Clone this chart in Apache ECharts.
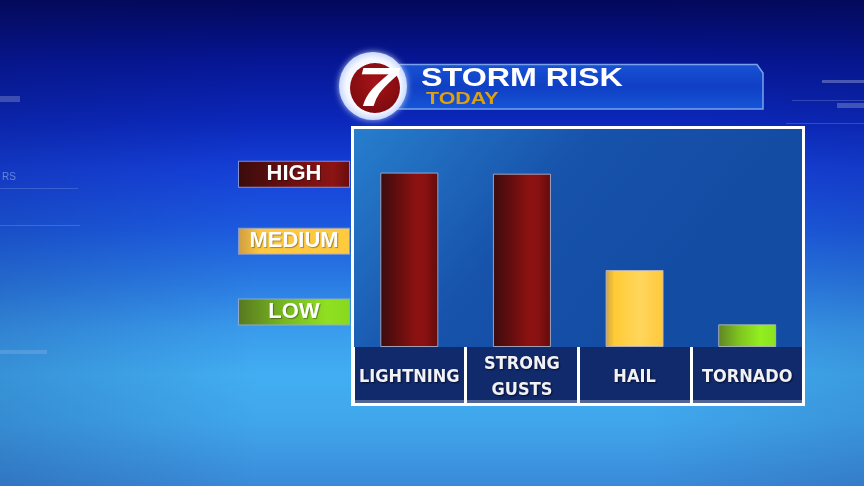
<!DOCTYPE html>
<html><head><meta charset="utf-8">
<script src="https://cdn.jsdelivr.net/npm/echarts@6/dist/echarts.min.js"></script>
<style>html,body{margin:0;padding:0;background:#1a50e0;overflow:hidden}#c{width:864px;height:486px}</style>
</head><body><div id="c"></div>
<script>
// ---- data ----
const categories = ['LIGHTNING', 'STRONG\nGUSTS', 'HAIL', 'TORNADO'];
const riskValues = [80, 79.5, 35.3, 10.4];
const riskLevels = ['HIGH', 'HIGH', 'MEDIUM', 'LOW'];
const levelNames = ['LOW', 'MEDIUM', 'HIGH'];
const levelValues = [16, 48.5, 79.3];
const titleText = 'STORM RISK';
const subtitleText = 'TODAY';
const logoText = '7';

// ---- styles ----
function hGrad(stops) {
  return new echarts.graphic.LinearGradient(0, 0, 1, 0, stops.map(s => ({offset: s[0], color: s[1]})));
}
const barStops = {
  HIGH: [[0, '#3a0c0e'], [0.35, '#6a0e0f'], [0.62, '#8c1211'], [0.78, '#891111'], [1, '#610c0c']],
  MEDIUM: [[0, '#c9a04a'], [0.15, '#ffcb35'], [0.6, '#ffd65c'], [1, '#ffc83a']],
  LOW: [[0, '#5e8424'], [0.35, '#7ec21f'], [0.72, '#93ee1f'], [1, '#8ae21f']]
};
const labelStops = {
  HIGH: [[0, '#3a0b0c'], [0.55, '#721010'], [0.85, '#8c1414'], [1, '#680c0c']],
  MEDIUM: [[0, '#cc9c42'], [0.2, '#ffc840'], [1, '#ffca3e']],
  LOW: [[0, '#587820'], [0.4, '#76b620'], [0.8, '#90e020'], [1, '#88d820']]
};
const FONT = '"DejaVu Sans Condensed","Liberation Sans",Arial,sans-serif';
const FONTW = '"Liberation Sans",Arial,sans-serif';

const rich = {};
levelNames.forEach(n => {
  rich[n.toLowerCase()] = {
    backgroundColor: hGrad(labelStops[n]),
    borderColor: 'rgba(180,180,200,0.7)', borderWidth: 1,
    width: 110, height: 25, lineHeight: 25, align: 'center',
    color: '#ffffff', fontSize: 22, fontWeight: 'bold', fontFamily: FONTW,
    textShadowColor: 'rgba(0,0,0,0.35)', textShadowBlur: 1, textShadowOffsetX: 1, textShadowOffsetY: 1,
    padding: [0, 0, 0, 0]
  };
});

const chart = echarts.init(document.getElementById('c'), null, {renderer: 'canvas'});
chart.setOption({
  animation: false,
  grid: {left: 353, right: 60.5, top: 129, bottom: 139, containLabel: false},
  xAxis: {
    type: 'category', data: categories,
    axisLine: {show: false},
    axisTick: {show: true, interval: 0, length: 56, lineStyle: {color: '#ffffff', width: 3}},
    axisLabel: {
      interval: 0, margin: 30, verticalAlign: 'middle', lineHeight: 26,
      fontSize: 18, fontWeight: 'bold', fontFamily: FONT, color: '#f2f2f4',
      textShadowColor: 'rgba(0,0,20,0.7)', textShadowBlur: 2, textShadowOffsetX: 1, textShadowOffsetY: 1
    },
    splitLine: {show: false}
  },
  yAxis: {
    type: 'value', min: 0, max: 100,
    axisLine: {show: false}, axisTick: {show: false}, splitLine: {show: false},
    axisLabel: {
      customValues: levelValues, margin: 4,
      formatter: v => { const i = levelValues.indexOf(v); const n = levelNames[i]; return n ? '{' + n.toLowerCase() + '|' + n + '}' : ''; },
      rich: rich
    }
  },
  series: [{
    type: 'bar', barWidth: 58, z: 5,
    data: riskValues.map((v, i) => ({
      value: v,
      itemStyle: {color: hGrad(barStops[riskLevels[i]]), borderColor: 'rgba(185,185,205,0.8)', borderWidth: 1}
    }))
  }],
  graphic: {elements: [
    {type: 'rect', z: -100, silent: true, shape: {x: 0, y: 0, width: 864, height: 486},
      style: {fill: new echarts.graphic.LinearGradient(0, 0, 0, 1, [
        {offset: 0, color: '#03085a'}, {offset: 0.12, color: '#061592'}, {offset: 0.25, color: '#0b28bb'},
        {offset: 0.35, color: '#1540d8'}, {offset: 0.47, color: '#1c5adf'}, {offset: 0.58, color: '#2a7be3'},
        {offset: 0.68, color: '#3a9cec'}, {offset: 0.77, color: '#42aef2'}, {offset: 0.87, color: '#40a6ec'},
        {offset: 1, color: '#3a8ad8'}])}},
    {type: 'rect', z: -99, silent: true, shape: {x: 0, y: 0, width: 864, height: 486},
      style: {fill: new echarts.graphic.LinearGradient(0, 0, 1, 0, [
        {offset: 0, color: 'rgba(10,20,90,0.18)'}, {offset: 0.3, color: 'rgba(10,20,90,0)'},
        {offset: 0.75, color: 'rgba(10,20,90,0)'}, {offset: 1, color: 'rgba(10,20,90,0.12)'}])}},
    // faint decorations
    {type: 'rect', z: -98, silent: true, shape: {x: 0, y: 96, width: 20, height: 6}, style: {fill: 'rgba(180,190,230,0.3)'}},
    {type: 'rect', z: -98, silent: true, shape: {x: 0, y: 188, width: 78, height: 1}, style: {fill: 'rgba(150,170,230,0.3)'}},
    {type: 'rect', z: -98, silent: true, shape: {x: 0, y: 225, width: 80, height: 1}, style: {fill: 'rgba(150,170,230,0.3)'}},
    {type: 'rect', z: -98, silent: true, shape: {x: 0, y: 350, width: 47, height: 4}, style: {fill: 'rgba(120,170,230,0.45)'}},
    {type: 'text', z: -98, silent: true, x: 2, y: 177, style: {text: 'RS', font: '10px ' + FONTW, fill: 'rgba(160,180,240,0.6)', verticalAlign: 'middle'}},
    {type: 'rect', z: -98, silent: true, shape: {x: 822, y: 80, width: 42, height: 3}, style: {fill: 'rgba(170,180,220,0.4)'}},
    {type: 'rect', z: -98, silent: true, shape: {x: 837, y: 103, width: 27, height: 5}, style: {fill: 'rgba(170,180,220,0.35)'}},
    {type: 'rect', z: -98, silent: true, shape: {x: 792, y: 100, width: 72, height: 1}, style: {fill: 'rgba(150,160,220,0.3)'}},
    {type: 'rect', z: -98, silent: true, shape: {x: 786, y: 123, width: 78, height: 1}, style: {fill: 'rgba(150,160,220,0.3)'}},
    // panel background
    {type: 'rect', z: -50, silent: true, shape: {x: 354, y: 129, width: 448, height: 218},
      style: {fill: new echarts.graphic.LinearGradient(0, 0, 0.6, 1, [
        {offset: 0, color: '#277ecc'}, {offset: 0.55, color: '#1752ab'}, {offset: 1, color: '#134ca3'}])}},
    {type: 'rect', z: -50, silent: true, shape: {x: 354, y: 347, width: 448, height: 56},
      style: {fill: '#112a6b'}},
    {type: 'rect', z: -49, silent: true, shape: {x: 354, y: 400, width: 448, height: 3},
      style: {fill: 'rgba(150,160,190,0.5)'}},
    // panel frame
    {type: 'rect', z: 50, silent: true, shape: {x: 352.5, y: 127.5, width: 451, height: 277},
      style: {fill: 'none', stroke: '#ffffff', lineWidth: 3}},
    // title banner
    {type: 'polygon', z: 10, silent: true,
      shape: {points: [[392, 64.5], [757, 64.5], [763, 73], [763, 109], [392, 109]]},
      style: {fill: new echarts.graphic.LinearGradient(0, 0, 0, 1, [
        {offset: 0, color: '#1852d6'}, {offset: 0.5, color: '#0f3fc4'}, {offset: 1, color: '#1656d8'}]),
        stroke: '#7aa2ea', lineWidth: 1.5}},
    // logo
    {type: 'circle', z: 20, silent: true, shape: {cx: 373, cy: 86, r: 34},
      style: {fill: new echarts.graphic.RadialGradient(0.5, 0.5, 0.5, [
        {offset: 0, color: '#ffffff'}, {offset: 0.8, color: '#f4f7ff'}, {offset: 1, color: '#c8d8ff'}]),
        shadowBlur: 6, shadowColor: 'rgba(220,235,255,0.8)'}},
    {type: 'circle', z: 21, silent: true, shape: {cx: 375, cy: 88, r: 25},
      style: {fill: new echarts.graphic.RadialGradient(0.5, 0.4, 0.6, [
        {offset: 0, color: '#a51317'}, {offset: 1, color: '#7e0b0f'}])}},
    {type: 'text', z: 22, silent: true, x: 377, y: 91, scaleX: 1.3,
      style: {text: logoText, font: 'italic bold 56px ' + FONTW, fill: '#ffffff',
        align: 'center', verticalAlign: 'middle'}},
    {type: 'text', z: 22, silent: true, x: 421, y: 79.5, scaleX: 1.29,
      style: {text: titleText, font: 'bold 25px ' + FONTW, fill: '#ffffff',
        align: 'left', verticalAlign: 'middle'}},
    {type: 'text', z: 22, silent: true, x: 426, y: 99.2, scaleX: 1.26,
      style: {text: subtitleText, font: 'bold 17px ' + FONTW, fill: '#dfa010',
        align: 'left', verticalAlign: 'middle'}}
  ]}
});
</script></body></html>
